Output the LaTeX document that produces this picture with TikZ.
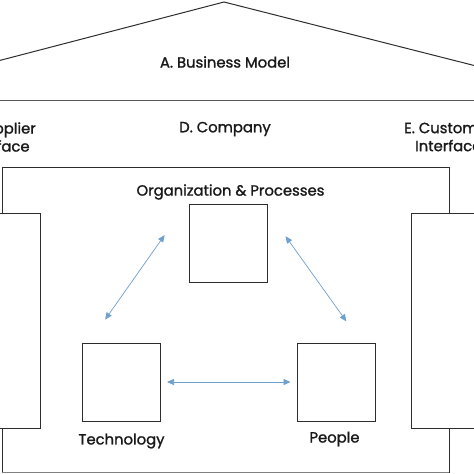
\documentclass[tikz,border=0pt]{standalone}
\usepackage{fontspec}
\setmainfont{Poppins}[RawFeature={embolden=1.3}]
\usetikzlibrary{arrows.meta}
\definecolor{linkblue}{RGB}{110,160,208}
\definecolor{edge}{RGB}{45,45,45}
\tikzset{
  wall/.style={draw=edge, line width=1pt},
  unit/.style={draw=edge, line width=1pt, fill=white, minimum width=78pt, minimum height=78pt, inner sep=0pt},
  lbl/.style={font=\fontsize{14.8}{18}\selectfont, text=black!90, align=center, inner sep=0pt},
  link/.style={draw=linkblue, line width=0.7pt, {Triangle[length=7pt,width=6pt]}-{Triangle[length=7pt,width=6pt]}}
}

\begin{document}
\begin{tikzpicture}[x=1pt,y=-1pt]
        \useasboundingbox (0,0) rectangle (474,474);
        \clip (0,0) rectangle (474,474);

        % roof
        \draw[wall] (-10,63) -- (224,2) -- (484,68);
        \draw[wall, draw=edge!80] (0,100) -- (474,100);
        \node[lbl] (model) at (225,62) {A. Business Model};

        % company frame
        \draw[wall] (2,473) -- (2,167) -- (449,167) -- (449,473);
        \draw[wall, draw=gray] (2,472.5) -- (449,472.5);

        % interfaces
        \draw[wall, fill=white] (-10,213) -- (40,213) -- (40,428) -- (-10,428);
        \draw[wall, fill=white] (484,213) -- (411,213) -- (411,428) -- (484,428);

        \node[lbl] (company) at (225,129) {D. Company};
        \node[lbl, anchor=east] (supplier) at (36,137) {C. Supplier\\Interface};
        \node[lbl, anchor=west] (customer) at (404,137) {E. Customer\\Interface};

        % boxes
        \node[unit] (org) at (228,243.5) {};
        \node[unit] (tech) at (121.5,382) {};
        \node[unit] (people) at (336,382) {};

        \node[lbl] (orglbl) at (230.5,192) {Organization \& Processes};
        \node[lbl] (techlbl) at (121.5,441) {Technology};
        \node[lbl] (peoplelbl) at (334.5,439) {People};

        % links
        \draw[link, shorten <=28pt, shorten >=38pt] ([xshift=7pt]tech.north west) -- ([xshift=-2pt]org.north west);
        \draw[link, shorten <=31pt, shorten >=26pt] ([yshift=-7pt]org.north east) -- ([xshift=-14pt]people.north east);
        \draw[link, shorten <=6pt, shorten >=6pt] (tech.east) -- (people.west);

    \end{tikzpicture}
\end{document}
